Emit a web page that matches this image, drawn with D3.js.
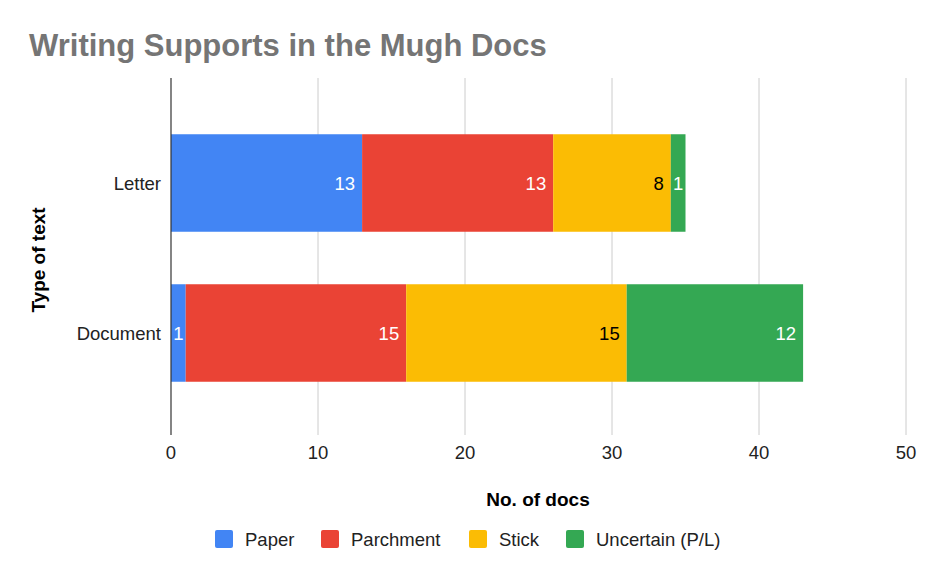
<!DOCTYPE html>
<html>
<head>
<meta charset="utf-8">
<script src="https://cdn.jsdelivr.net/npm/d3@7"></script>
<style>
  body { margin: 0; background: #fff; }
  svg { font-family: Arial, "Liberation Sans", sans-serif; }
</style>
</head>
<body>
<div id="chart"></div>
<script>
// Data
const categories = ['Letter', 'Document'];
const seriesNames = ['Paper', 'Parchment', 'Stick', 'Uncertain (P/L)'];
const paper = [13, 1];
const parchment = [13, 15];
const stick = [8, 15];
const uncertain = [1, 12];
const xTicks = [0, 10, 20, 30, 40, 50];

const colors = ['#4285f4', '#ea4335', '#fbbc04', '#34a853'];
const labelColors = ['#fff', '#fff', '#000', '#fff'];

const width = 936;
const height = 578;

const svg = d3.select('#chart')
  .append('svg')
  .attr('width', width)
  .attr('height', height);

// Build the table the stack wants
const rows = categories.map((cat, i) => ({
  cat: cat,
  Paper: paper[i],
  Parchment: parchment[i],
  Stick: stick[i],
  'Uncertain (P/L)': uncertain[i],
}));
const stacked = d3.stack().keys(seriesNames)(rows);

const x = d3.scaleLinear().domain([0, 50]).range([171, 906]);
const y = d3.scaleBand()
  .domain(categories)
  .range([108, 408])
  .paddingInner(0.35)
  .paddingOuter(0.175);

const plotTop = 78;
const plotBottom = 435;

// gridlines
svg.append('g')
  .selectAll('line')
  .data(xTicks.filter((t) => t > 0))
  .enter()
  .append('line')
  .attr('x1', (d) => x(d))
  .attr('x2', (d) => x(d))
  .attr('y1', plotTop)
  .attr('y2', plotBottom)
  .style('stroke', '#cccccc')
  .style('stroke-width', 1);

// bars
const layers = svg.append('g')
  .selectAll('g')
  .data(stacked)
  .enter()
  .append('g')
  .style('fill', (d, i) => colors[i]);

layers.selectAll('rect')
  .data((d) => d)
  .enter()
  .append('rect')
  .attr('x', (d) => x(d[0]))
  .attr('y', (d) => y(d.data.cat))
  .attr('width', (d) => x(d[1]) - x(d[0]))
  .attr('height', y.bandwidth());

// value labels, right aligned inside each segment
stacked.forEach((layer, si) => {
  svg.append('g')
    .selectAll('text')
    .data(layer)
    .enter()
    .append('text')
    .attr('x', (d) => {
      const w = x(d[1]) - x(d[0]);
      return w < 20 ? (x(d[0]) + x(d[1])) / 2 : x(d[1]) - 7;
    })
    .attr('y', (d) => y(d.data.cat) + y.bandwidth() / 2)
    .attr('dy', '0.36em')
    .attr('text-anchor', (d) => (x(d[1]) - x(d[0]) < 20 ? 'middle' : 'end'))
    .style('font-size', '18.5px')
    .style('fill', labelColors[si])
    .text((d) => d[1] - d[0]);
});

// y axis line
svg.append('line')
  .attr('x1', x(0))
  .attr('x2', x(0))
  .attr('y1', plotTop)
  .attr('y2', plotBottom)
  .style('stroke', '#333')
  .style('stroke-width', 1.2);

// category labels
svg.append('g')
  .selectAll('text')
  .data(categories)
  .enter()
  .append('text')
  .attr('x', 161)
  .attr('y', (d) => y(d) + y.bandwidth() / 2)
  .attr('dy', '0.36em')
  .attr('text-anchor', 'end')
  .style('font-size', '18.5px')
  .style('fill', '#222')
  .text((d) => d);

// x tick labels
svg.append('g')
  .selectAll('text')
  .data(xTicks)
  .enter()
  .append('text')
  .attr('x', (d) => x(d))
  .attr('y', 459)
  .attr('text-anchor', 'middle')
  .style('font-size', '18.5px')
  .style('fill', '#222')
  .text((d) => d);

// title
svg.append('text')
  .attr('x', 29)
  .attr('y', 56)
  .style('font-size', '31px')
  .style('font-weight', 'bold')
  .style('fill', '#757575')
  .text('Writing Supports in the Mugh Docs');

// axis titles
svg.append('text')
  .attr('x', 538)
  .attr('y', 506)
  .attr('text-anchor', 'middle')
  .style('font-size', '19px')
  .style('font-weight', 'bold')
  .style('fill', '#000')
  .text('No. of docs');

svg.append('text')
  .attr('transform', 'translate(45,260) rotate(-90)')
  .attr('text-anchor', 'middle')
  .style('font-size', '19px')
  .style('font-weight', 'bold')
  .style('fill', '#000')
  .text('Type of text');

// legend
const legendX = [215, 321, 469, 566];
const legend = svg.append('g')
  .selectAll('g')
  .data(seriesNames)
  .enter()
  .append('g')
  .attr('transform', (d, i) => `translate(${legendX[i]},539)`);

legend.append('rect')
  .attr('x', 0)
  .attr('y', -9)
  .attr('width', 18)
  .attr('height', 18)
  .attr('rx', 2)
  .style('fill', (d, i) => colors[i]);

legend.append('text')
  .attr('x', 30)
  .attr('y', 0)
  .attr('dy', '0.36em')
  .style('font-size', '18.5px')
  .style('fill', '#222')
  .text((d) => d);
</script>
</body>
</html>
